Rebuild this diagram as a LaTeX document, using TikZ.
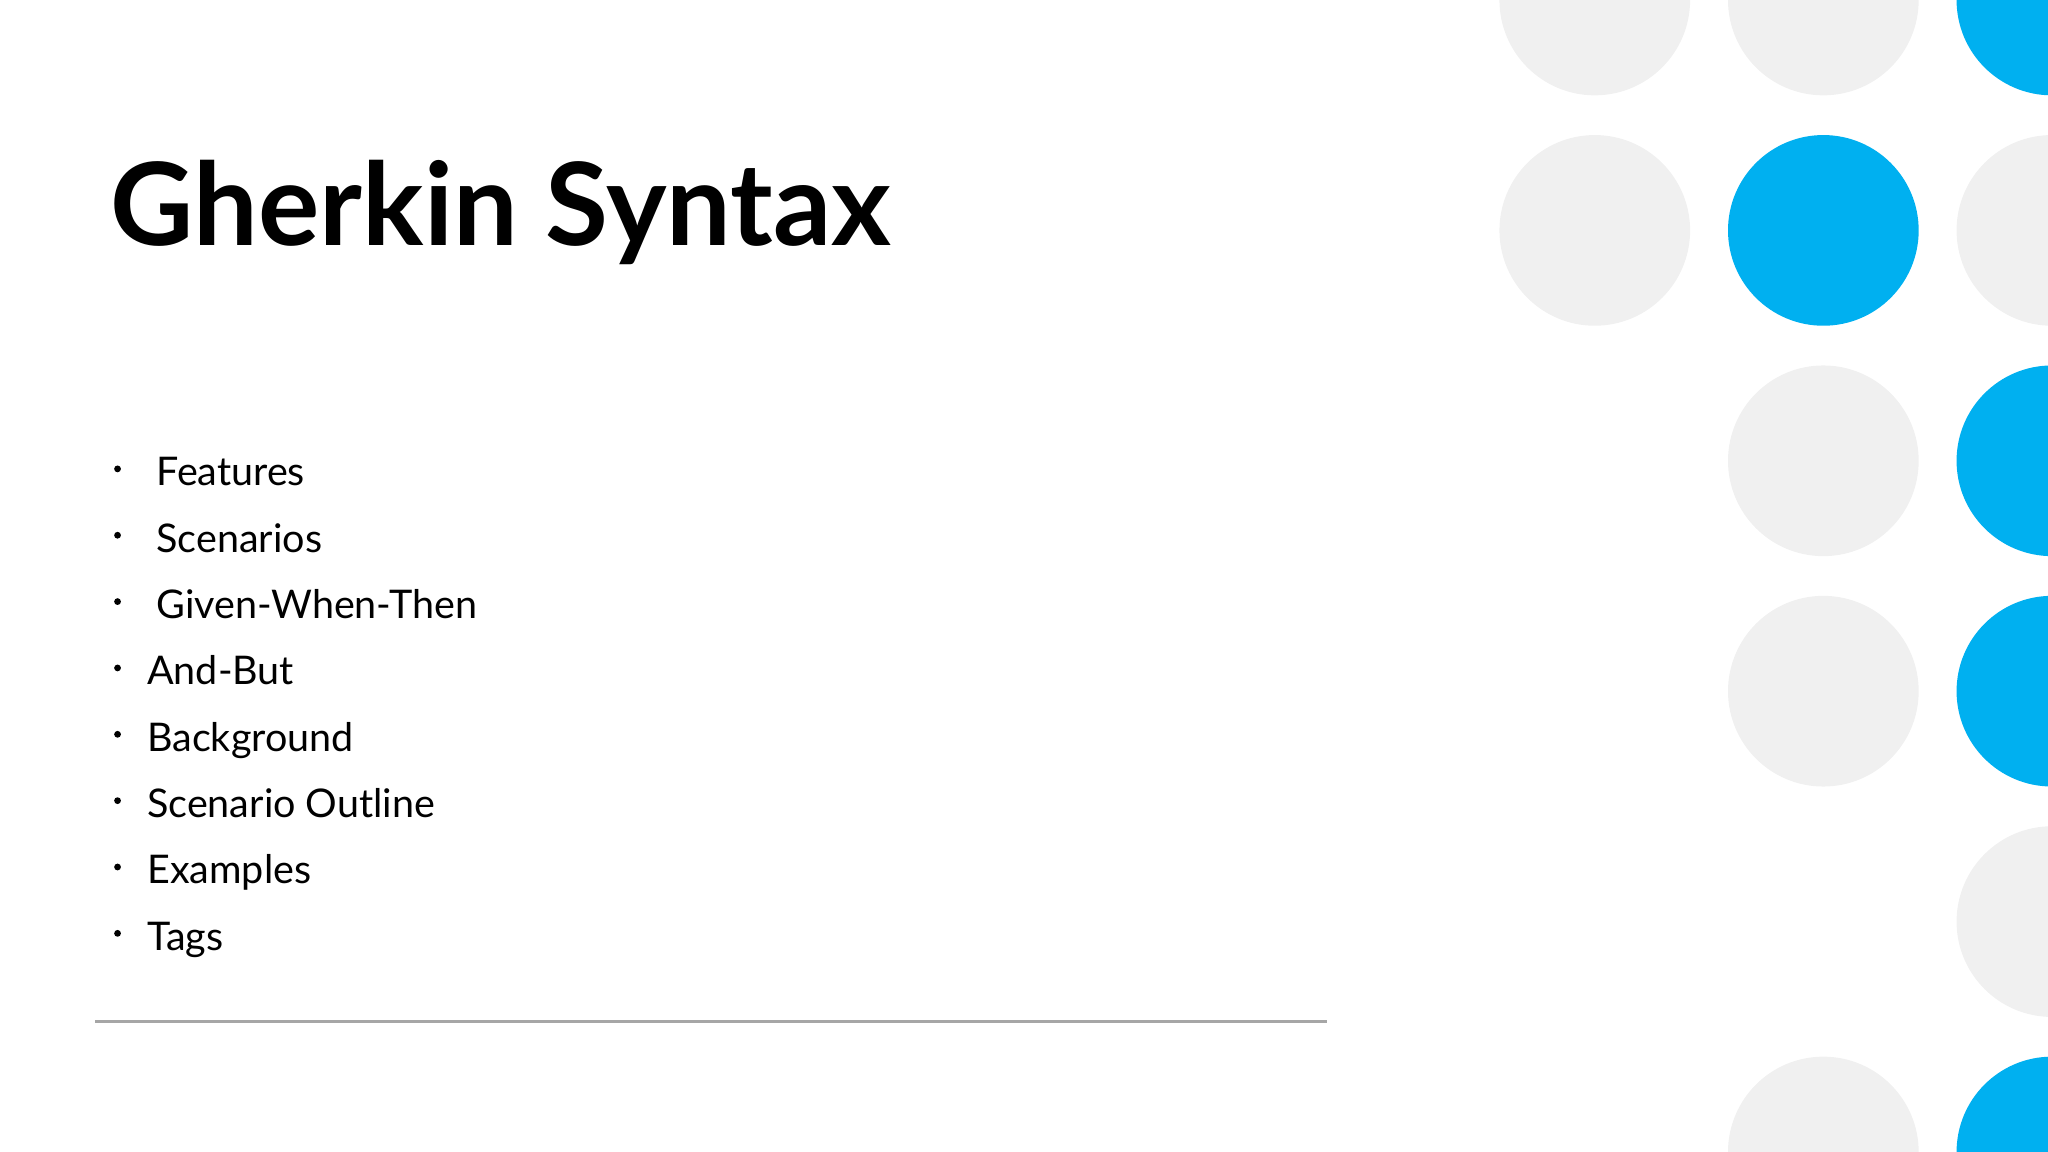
\documentclass[tikz,border=0pt]{standalone}
\usepackage{fontspec}
\setmainfont{Lato}
\usetikzlibrary{calc}
\definecolor{dotgray}{HTML}{F0F0F0}
\definecolor{dotblue}{HTML}{00B0F0}
\definecolor{rulegray}{HTML}{A6A6A6}

\begin{document}
\begin{tikzpicture}[x=0.01cm,y=-0.01cm]
            \path[use as bounding box] (0,0) rectangle (1568,882);
            \clip (0,0) rectangle (1568,882);

            % dots: column/row/colour
            \foreach \c/\r/\col in {0/0/dotgray,1/0/dotgray,2/0/dotblue,
                                    0/1/dotgray,1/1/dotblue,2/1/dotgray,
                                    1/2/dotgray,2/2/dotblue,
                                    1/3/dotgray,2/3/dotblue,
                                    2/4/dotgray,
                                    1/5/dotgray,2/5/dotblue}
            {
                \fill[\col] ({1221+175*\c},{176.4*\r}) circle (73);
            }

            \node[anchor=base west, inner sep=0, font=\bfseries\fontsize{25}{30}\selectfont] (title) at (84,188) {Gherkin Syntax};

            \foreach \i/\t/\dx in {0/Features/119,1/Scenarios/119,2/Given-When-Then/119,3/And-But/112,
                                   4/Background/112,5/Scenario Outline/112,6/Examples/112,7/Tags/112}
            {
                \node[anchor=base west, inner sep=0, font=\fontsize{8.6}{10}\selectfont] (item\i) at (\dx,{372+50.8*\i}) {\t};
                \fill (90,{372+50.8*\i-13}) circle (2.6);
            }

            \draw[rulegray, line width=0.8pt] (73,782) -- (1016,782);
        \end{tikzpicture}
\end{document}
